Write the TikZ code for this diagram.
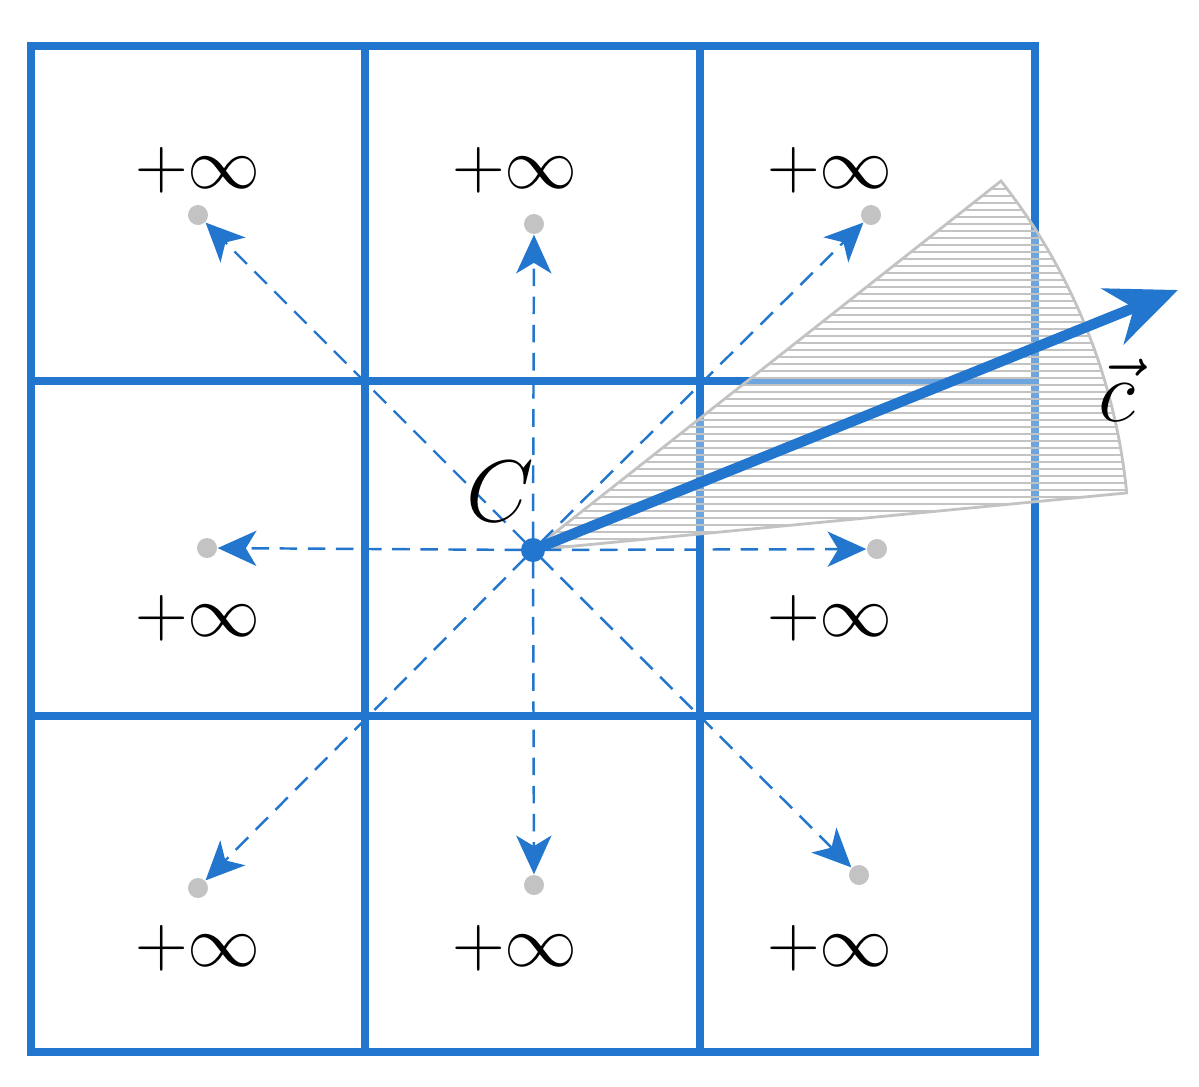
\documentclass[tikz,border=0pt]{standalone}
\usetikzlibrary{arrows.meta}
\definecolor{gblue}{RGB}{35,118,205}
\definecolor{ggray}{RGB}{195,195,195}
\tikzset{
 grid/.style={draw=gblue,line width=2.1pt},
 dot/.style={circle,fill=ggray,inner sep=0pt,minimum size=0.2cm},
 darrow/.style={draw=gblue,line width=0.7pt,dash pattern=on 5pt off 3pt,-{Stealth[length=11pt,width=10pt,inset=3pt]},shorten >=0pt},
 inf/.style={font=\fontsize{22}{26}\selectfont},
}
\begin{document}
\begin{tikzpicture}[x=0.01cm,y=-0.01cm]
\useasboundingbox (0,0) rectangle (1199,1087);
% grid
\draw[grid] (31,46) rectangle (1035,1052);
\draw[grid] (365,46) -- (365,1052) (700,46) -- (700,1052) (31,381) -- (1035,381) (31,716) -- (1035,716);
% sector
\begin{scope}
\clip (533,550) -- (1001,181) arc[start angle=38.3,end angle=5.6,radius=5.97cm] -- cycle;
\fill[white,opacity=0.35] (520,170) rectangle (1140,560);
\foreach \y in {175,182,...,560} \draw[ggray,line width=0.6pt] (520,\y) -- (1140,\y);
\end{scope}
\draw[ggray,line width=0.8pt] (533,550) -- (1001,181) arc[start angle=38.3,end angle=5.6,radius=5.97cm] -- cycle;
% nodes
\node[dot] (c) at (533,550) {};
\node[dot] (a1) at (198,215) {};
\node[dot] (a2) at (534,224) {};
\node[dot] (a3) at (871,215) {};
\node[dot] (a4) at (207,548) {};
\node[dot] (a6) at (877,549) {};
\node[dot] (a7) at (198,888) {};
\node[dot] (a8) at (534,885) {};
\node[dot] (a9) at (859,875) {};
\foreach \t in {a1,a2,a3,a4,a6,a7,a8,a9} \draw[darrow] (c) -- (\t);
\fill[gblue] (c) circle (0.12cm);
\coordinate (tip) at (1178,290);
\draw[gblue,line width=3pt,-{Stealth[length=20pt,width=17pt]}] (c.center) -- (tip);
\node[font=\fontsize{26}{30}\selectfont] (lc) at (500,492) {$C$};
\node[font=\fontsize{26}{30}\selectfont] (lv) at (1117,390) {$\vec{c}$};
\node[inf] (i1) at (198,170) {$+\infty$};
\node[inf] (i2) at (515,170) {$+\infty$};
\node[inf] (i3) at (830,170) {$+\infty$};
\node[inf] (i4) at (198,618) {$+\infty$};
\node[inf] (i6) at (830,618) {$+\infty$};
\node[inf] (i7) at (198,948) {$+\infty$};
\node[inf] (i8) at (515,948) {$+\infty$};
\node[inf] (i9) at (830,948) {$+\infty$};
\end{tikzpicture}
\end{document}
